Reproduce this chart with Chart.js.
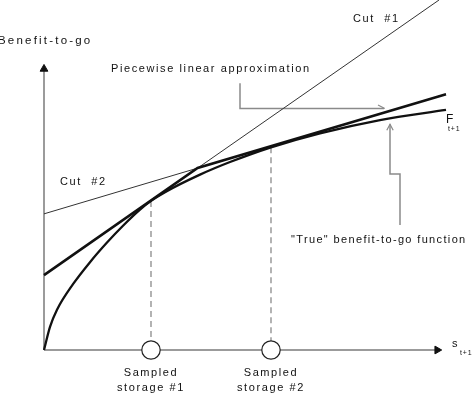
<!DOCTYPE html>
<html>
<head>
<meta charset="utf-8">
<title>Benefit-to-go</title>
<script src="https://cdn.jsdelivr.net/npm/chart.js@4.4.1/dist/chart.umd.min.js"></script>
<style>
    html, body { margin: 0; padding: 0; background: #fff; }
    #wrap { width: 474px; height: 395px; position: relative; }
</style>
</head>
<body>
<div id="wrap"><canvas id="cutsChart"></canvas></div>
<script>
// "True" benefit-to-go function F(t+1)
const storage = [0, 0.15, 0.325, 0.725, 1.15, 1.575, 1.975, 2.4, 2.675, 3.025, 3.9, 4.65, 5.675, 6.9, 8.4, 10.05];
const benefit = [0, 0.66, 1.15, 1.88, 2.51, 3.07, 3.55, 4.01, 4.26, 4.51, 5.01, 5.37, 5.79, 6.19, 6.57, 6.86];

// Cut #1 and Cut #2 (tangents at the sampled storages)
const cut1X = [0, 9.875];
const cut1Y = [2.14, 10];
const cut2X = [0, 10.05];
const cut2Y = [3.89, 7.31];

// Piecewise linear approximation (lower envelope of the two cuts)
const pwlX = [0, 3.84, 10.05];
const pwlY = [2.14, 5.2, 7.31];

// Sampled storages
const sampledStorage = [2.675, 5.675];
const sampledBenefit = [4.26, 5.79];
const sampledNames = ['storage #1', 'storage #2'];

// Axis extents (arrow tips)
const xAxisEnd = 9.94;
const yAxisEnd = 8.16;

const pts = (xs, ys) => xs.map((x, i) => ({ x, y: ys[i] }));

function lineSet(data, color, width, order, extra) {
    return Object.assign({
        data,
        showLine: true,
        borderColor: color,
        borderWidth: width,
        pointRadius: 0,
        fill: false,
        order
    }, extra || {});
}

// Leader lines for the two callouts
const pwlLeader = [{ x: 4.9, y: 7.62 }, { x: 4.9, y: 6.9 }, { x: 8.5, y: 6.9 }];
const pwlBarb = [{ x: 8.35, y: 7.0 }, { x: 8.52, y: 6.9 }];
const trueLeader = [{ x: 8.65, y: 6.45 }, { x: 8.65, y: 5.03 }, { x: 8.9, y: 5.03 }, { x: 8.9, y: 3.57 }];
const trueBarb = [{ x: 8.57, y: 6.28 }, { x: 8.65, y: 6.45 }, { x: 8.73, y: 6.28 }];

const labels = [
    { text: 'Benefit-to-go', x: -1.15, y: 8.74, size: 11.5, spacing: 2.2 },
    { text: 'Piecewise linear approximation', x: 1.675, y: 7.94 },
    { text: 'Cut  #1', x: 7.725, y: 9.37 },
    { text: 'Cut  #2', x: 0.4, y: 4.71 },
    { text: '"True" benefit-to-go function', x: 6.175, y: 3.06, spacing: 1.35 },
    { text: 'F', x: 10.05, y: 6.49, size: 12 },
    { text: 't+1', x: 10.1, y: 6.26, size: 7, spacing: 0.8 },
    { text: 's', x: 10.2, y: 0.09, size: 11 },
    { text: 't+1', x: 10.4, y: -0.14, size: 7, spacing: 0.8 }
];
sampledStorage.forEach((s, i) => {
    labels.push({ text: 'Sampled', x: s, y: -0.74, align: 'center' });
    labels.push({ text: sampledNames[i], x: s, y: -1.17, align: 'center' });
});

const textPlugin = {
    id: 'figureText',
    afterDraw(chart) {
        const { ctx, scales: { x, y } } = chart;
        ctx.save();
        ctx.fillStyle = '#111';
        ctx.textBaseline = 'alphabetic';
        labels.forEach(l => {
            ctx.font = `${l.size || 11}px "Liberation Sans", Arial, sans-serif`;
            ctx.letterSpacing = `${l.spacing !== undefined ? l.spacing : 1.6}px`;
            ctx.textAlign = l.align || 'left';
            ctx.fillText(l.text, x.getPixelForValue(l.x), y.getPixelForValue(l.y));
        });
        ctx.restore();
    }
};

document.addEventListener('DOMContentLoaded', () => {
    const ctx = document.getElementById('cutsChart').getContext('2d');
    new Chart(ctx, {
        type: 'scatter',
        data: {
            datasets: [
                // axes
                lineSet([{ x: 0, y: 0 }, { x: xAxisEnd - 0.1, y: 0 }], '#7a7a7a', 1.5, 9),
                lineSet([{ x: 0, y: 0 }, { x: 0, y: yAxisEnd - 0.1 }], '#7a7a7a', 1.5, 9),
                {
                    data: [{ x: xAxisEnd - 0.11, y: 0 }],
                    pointStyle: 'triangle', rotation: 90, pointRadius: 4.5,
                    backgroundColor: '#111', borderColor: '#111', borderWidth: 1, order: 8
                },
                {
                    data: [{ x: 0, y: yAxisEnd - 0.13 }],
                    pointStyle: 'triangle', rotation: 0, pointRadius: 4.5,
                    backgroundColor: '#111', borderColor: '#111', borderWidth: 1, order: 8
                },
                // callout leaders
                lineSet(pwlLeader, '#8a8a8a', 1.5, 7),
                lineSet(pwlBarb, '#8a8a8a', 1.2, 7),
                lineSet(trueLeader, '#8a8a8a', 1.5, 7),
                lineSet(trueBarb, '#8a8a8a', 1.2, 7),
                // dashed drops to the sampled storages
                ...sampledStorage.map((s, i) => lineSet(
                    [{ x: s, y: sampledBenefit[i] }, { x: s, y: 0.26 }],
                    '#8a8a8a', 1.3, 6, { borderDash: [6, 4] }
                )),
                // cuts
                lineSet(pts(cut1X, cut1Y), '#333', 1, 5),
                lineSet(pts(cut2X, cut2Y), '#333', 1, 5),
                // piecewise linear approximation
                lineSet(pts(pwlX, pwlY), '#111', 2.6, 4),
                // true function
                lineSet(pts(storage, benefit), '#111', 2.3, 3, { cubicInterpolationMode: 'monotone' }),
                // sampled storage markers
                {
                    data: sampledStorage.map(s => ({ x: s, y: 0 })),
                    pointRadius: 9.2, pointStyle: 'circle',
                    backgroundColor: '#fff', borderColor: '#222', borderWidth: 1.2, order: 1
                }
            ]
        },
        options: {
            responsive: true,
            maintainAspectRatio: false,
            animation: false,
            events: [],
            layout: { padding: 0, autoPadding: false },
            scales: {
                x: { type: 'linear', display: false, min: -1.1, max: 10.75 },
                y: { type: 'linear', display: false, min: -1.2857, max: 10 }
            },
            plugins: {
                legend: { display: false },
                tooltip: { enabled: false }
            }
        },
        plugins: [textPlugin]
    });
});
</script>
</body>
</html>
